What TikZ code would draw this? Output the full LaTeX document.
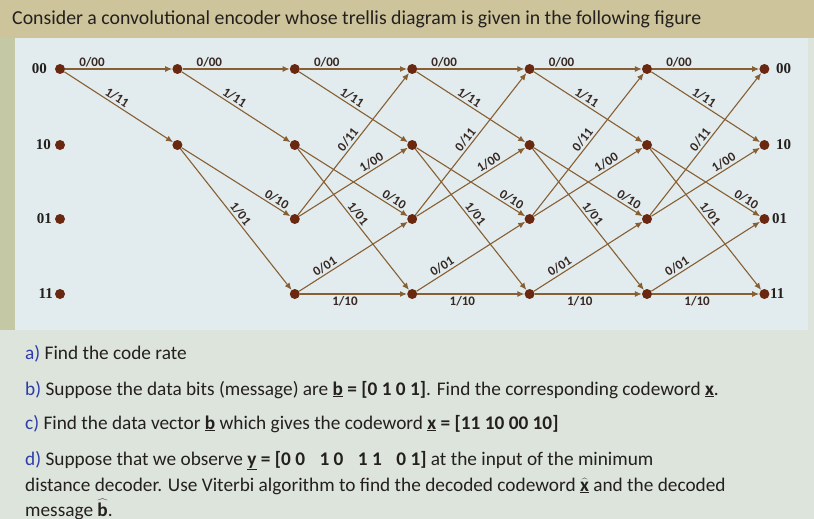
\documentclass[tikz,border=0pt]{standalone}
\usepackage{fontspec}
\setmainfont{Carlito}
\newfontfamily\statefont{Liberation Serif}
\usetikzlibrary{arrows.meta}
\definecolor{bgtop}{RGB}{205,196,155}
\definecolor{panel}{RGB}{226,236,238}
\definecolor{lowerbg}{RGB}{221,228,220}
\definecolor{sidebg}{RGB}{196,200,165}
\definecolor{linecol}{RGB}{135,95,50}
\definecolor{dotcol}{RGB}{105,40,15}
\definecolor{labcol}{RGB}{55,40,35}
\definecolor{textcol}{RGB}{35,32,30}
\definecolor{partcol}{RGB}{45,60,170}
\tikzset{
  dot/.style={circle,fill=dotcol,minimum size=10pt,inner sep=0pt},
  trans/.style={draw=linecol,line width=1.1pt,-{Latex[length=7pt,width=6pt]}},
  lab/.style={font=\bfseries\fontsize{13}{13}\selectfont,text=labcol,inner sep=1.8pt},
  stlab/.style={font=\statefont\bfseries\fontsize{15}{15}\selectfont,text=textcol,inner sep=0pt},
  body/.style={anchor=base west,inner sep=0pt,text=textcol,font=\fontsize{19.3}{19.3}\selectfont},
  title/.style={anchor=base west,inner sep=0pt,text=textcol,font=\fontsize{19.8}{19.8}\selectfont},
}
\newcommand\qpart[1]{\textcolor{partcol}{#1}}
\newcommand\ubf[1]{\underline{\textbf{#1}}}
\newcommand\gap{\hspace{0.75em}}
\begin{document}
\begin{tikzpicture}[x=1pt,y=-1pt]
\useasboundingbox (0,0) rectangle (814,519);
\fill[lowerbg] (0,0) rectangle (814,519);
\fill[bgtop] (0,0) rectangle (814,38);
\fill[sidebg] (0,38) rectangle (15,330);
\fill[panel] (15,38) rectangle (808,330);
% title
\node[title] (ttl) at (12,25) {Consider a convolutional encoder whose trellis diagram is given in the following figure};
% states
\foreach \c in {0,...,6}{
  \pgfmathsetmacro\xx{60+117.4*\c}
  \coordinate (pA\c) at (\xx,69);
  \coordinate (pB\c) at (\xx,145);
  \coordinate (pC\c) at (\xx,219);
  \coordinate (pD\c) at (\xx,294);
}
\foreach \c in {0,1,...,6}{ \node[dot] (A\c) at (pA\c) {}; }
\foreach \c in {0,2,3,4,5,6}{ \node[dot] (C\c) at (pC\c) {}; \node[dot] (D\c) at (pD\c) {}; }
\foreach \c in {0,1,...,6}{ \node[dot] (B\c) at (pB\c) {}; }
% state labels
\node[stlab,anchor=east] (lA) at (47,69) {00};
\node[stlab,anchor=east] (lB) at (51,145) {10};
\node[stlab,anchor=east] (lC) at (52,219) {01};
\node[stlab,anchor=east] (lD) at (53,294) {11};
\node[stlab,anchor=west] (rA) at (776,69) {00};
\node[stlab,anchor=west] (rB) at (776,145) {10};
\node[stlab,anchor=west] (rC) at (772,219) {01};
\node[stlab,anchor=west] (rD) at (770,294) {11};
% transitions 0->1
\draw[trans] (A0) -- node[lab,pos=0.25,above] {0/00} (A1);
\draw[trans] (A0) -- node[lab,pos=0.45,above,sloped] {1/11} (B1);
% 1->2
\draw[trans] (A1) -- node[lab,pos=0.25,above] {0/00} (A2);
\draw[trans] (A1) -- node[lab,pos=0.45,above,sloped] {1/11} (B2);
\draw[trans] (B1) -- node[lab,pos=0.84,above,sloped] {0/10} (C2);
\draw[trans] (B1) -- node[lab,pos=0.49,above,sloped] {1/01} (D2);
% full stages
\foreach \c [evaluate=\c as \n using int(\c+1)] in {2,3,4,5}{
  \draw[trans] (A\c) -- node[lab,pos=0.25,above] {0/00} (A\n);
  \draw[trans] (A\c) -- node[lab,pos=0.45,above,sloped] {1/11} (B\n);
  \draw[trans] (B\c) -- node[lab,pos=0.84,above,sloped] {0/10} (C\n);
  \draw[trans] (B\c) -- node[lab,pos=0.49,above,sloped] {1/01} (D\n);
  \draw[trans] (C\c) -- node[lab,pos=0.5,above,sloped] {0/11} (A\n);
  \draw[trans] (C\c) -- node[lab,pos=0.7,above,sloped] {1/00} (B\n);
  \draw[trans] (D\c) -- node[lab,pos=0.27,above,sloped] {0/01} (C\n);
  \draw[trans] (D\c) -- node[lab,pos=0.42,below] {1/10} (D\n);
}
% questions
\node[body] (qa) at (25,359) {\qpart{a)} Find the code rate};
\node[body] (qb) at (25,395) {\qpart{b)} Suppose the data bits (message) are \ubf{b} \textbf{= [0 1 0 1]}. Find the corresponding codeword \ubf{x}.};
\node[body] (qc) at (25,429) {\qpart{c)} Find the data vector \ubf{b} which gives the codeword \ubf{x} \textbf{= [11 10 00 10]}};
\node[body] (qd1) at (25,465) {\qpart{d)} Suppose that we observe \ubf{y} \textbf{= [0 0\gap1 0\gap1 1\gap0 1]} at the input of the minimum};
\node[body] (qd2) at (25,491) {distance decoder. Use Viterbi algorithm to find the decoded codeword $\underline{\widehat{\textbf{x}}}$ and the decoded};
\node[body] (qd3) at (25,516) {message $\widehat{\textbf{b}}$.};
\end{tikzpicture}
\end{document}
